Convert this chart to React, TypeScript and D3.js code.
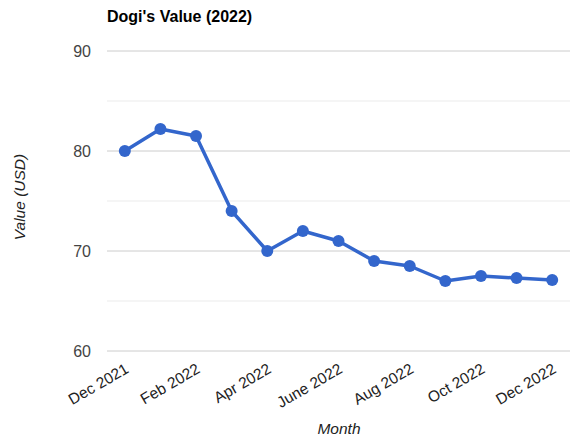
import * as d3 from "d3";

const months = [
  "Dec 2021", "Jan 2022", "Feb 2022", "Mar 2022", "Apr 2022", "May 2022", "June 2022",
  "July 2022", "Aug 2022", "Sep 2022", "Oct 2022", "Nov 2022", "Dec 2022",
];
const values = [80, 82.2, 81.5, 74, 70, 72, 71, 69, 68.5, 67, 67.5, 67.3, 67.1];
const labeledMonths = ["Dec 2021", "Feb 2022", "Apr 2022", "June 2022", "Aug 2022", "Oct 2022", "Dec 2022"];
const majorTicks = [60, 70, 80, 90];
const minorTicks = [65, 75, 85];

const width = 582;
const height = 442;
const margin = { top: 51, right: 12, bottom: 91, left: 107 };
const font = "Arial, 'Liberation Sans', sans-serif";

export default function App() {
  const x = d3
    .scalePoint<string>()
    .domain(months)
    .range([margin.left, width - margin.right])
    .padding(0.5);
  const y = d3
    .scaleLinear()
    .domain([60, 90])
    .range([height - margin.bottom, margin.top]);

  const line = d3
    .line<number>()
    .x((_, i) => x(months[i]) as number)
    .y((d) => y(d));

  return (
    <svg
      width={width}
      height={height}
      style={{ position: "absolute", left: 0, top: 0 }}
      fontFamily={font}
    >
      <rect width={width} height={height} fill="#fff" />
      <text x={107} y={22} fontSize={16} fontWeight="bold" fill="#000">
        Dogi's Value (2022)
      </text>

      {minorTicks.map((t) => (
        <line key={"m" + t} x1={margin.left} x2={width - margin.right} y1={y(t)} y2={y(t)} stroke="#ebebeb" />
      ))}
      {majorTicks.map((t) => (
        <g key={t}>
          <line x1={margin.left} x2={width - margin.right} y1={y(t)} y2={y(t)} stroke="#cccccc" />
          <text x={91} y={y(t)} dy="0.35em" textAnchor="end" fontSize={16} fill="#444">
            {t}
          </text>
        </g>
      ))}

      <path d={line(values) ?? ""} fill="none" stroke="#3366cc" strokeWidth={3.5} strokeLinejoin="round" />
      {values.map((v, i) => (
        <circle key={i} cx={x(months[i])} cy={y(v)} r={6} fill="#3366cc" />
      ))}

      {labeledMonths.map((m) => (
        <text
          key={m}
          transform={`translate(${(x(m) as number) + 5},${height - margin.bottom + 21}) rotate(-30)`}
          textAnchor="end"
          fontSize={15.5}
          fill="#222"
        >
          {m}
        </text>
      ))}

      <text x={339} y={434} textAnchor="middle" fontSize={15.5} fontStyle="italic" fill="#222">
        Month
      </text>
      <text
        transform={`translate(25,${(margin.top + height - margin.bottom) / 2 - 4}) rotate(-90)`}
        textAnchor="middle"
        fontSize={15.5}
        fontStyle="italic"
        fill="#222"
      >
        Value (USD)
      </text>
    </svg>
  );
}
